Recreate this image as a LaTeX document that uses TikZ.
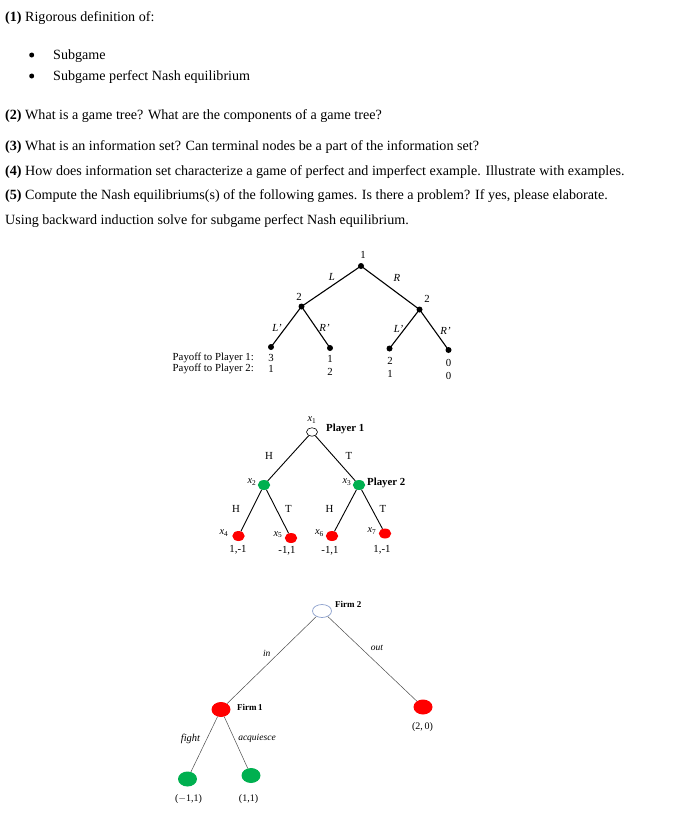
\documentclass[tikz,border=0pt]{standalone}
\usepackage{fontspec}
\setmainfont{Liberation Serif}
\usetikzlibrary{shapes.geometric}
\definecolor{tgreen}{RGB}{0,176,80}
\definecolor{tred}{RGB}{255,0,0}
\definecolor{tblue}{RGB}{140,160,205}
\begin{document}
\begin{tikzpicture}[x=1pt,y=-1pt,
  body/.style={anchor=base west,inner sep=0pt,font=\fontsize{14.1}{16}\selectfont},
  bul/.style={circle,fill=black,inner sep=0pt,minimum size=5pt},
  dotn/.style={circle,fill=black,inner sep=0pt,minimum size=6pt},
  tlab/.style={inner sep=0pt,font=\fontsize{10.8}{11}\selectfont},
  tedge/.style={line width=1.1pt},
  gA/.style={ellipse,draw=black,line width=0.6pt,fill=white,minimum width=11pt,minimum height=8.5pt,inner sep=0pt},
  gG/.style={ellipse,fill=tgreen,minimum width=12.5pt,minimum height=10pt,inner sep=0pt},
  gR/.style={ellipse,fill=tred,minimum width=12.5pt,minimum height=10pt,inner sep=0pt},
  sedge/.style={line width=0.9pt},
  slab/.style={inner sep=0pt,font=\fontsize{10.8}{11}\selectfont},
  xl/.style={inner sep=0pt,font=\fontsize{10.5}{11}\selectfont},
  fR/.style={ellipse,fill=tred,minimum width=19pt,minimum height=15pt,inner sep=0pt},
  fG/.style={ellipse,fill=tgreen,minimum width=19pt,minimum height=15pt,inner sep=0pt},
  fO/.style={ellipse,draw=tblue,line width=0.7pt,fill=white,minimum width=19pt,minimum height=13pt,inner sep=0pt},
  fedge/.style={line width=0.5pt,draw=black!70},
  flab/.style={inner sep=0pt,font=\fontsize{9.5}{10}\selectfont\itshape},
  fpay/.style={inner sep=0pt,font=\fontsize{10}{11}\selectfont},
  fbold/.style={inner sep=0pt,anchor=west,font=\fontsize{9}{10}\selectfont\bfseries},
]
\useasboundingbox (0,0) rectangle (683,820);
\fill[white] (0,0) rectangle (683,820);

% ---------- text ----------
\node[body] (t1) at (5,21.5) {\textbf{(1)} Rigorous definition of:};
\node[bul] (b1) at (31.7,55) {};
\node[body] (t1a) at (53,59) {Subgame};
\node[bul] (b2) at (31.7,76) {};
\node[body] (t1b) at (53,80) {Subgame perfect Nash equilibrium};
\node[body] (t2) at (5,119) {\textbf{(2)} What is a game tree? What are the components of a game tree?};
\node[body] (t3) at (5,150) {\textbf{(3)} What is an information set? Can terminal nodes be a part of the information set?};
\node[body] (t4) at (5,175) {\textbf{(4)} How does information set characterize a game of perfect and imperfect example. Illustrate with examples.};
\node[body] (t5) at (5,199.5) {\textbf{(5)} Compute the Nash equilibriums(s) of the following games. Is there a problem? If yes, please elaborate.};
\node[body] (t6) at (5,224) {Using backward induction solve for subgame perfect Nash equilibrium.};

% ---------- tree 1 ----------
\node[dotn] (r) at (361,266) {};
\node[dotn] (a) at (301.5,306.5) {};
\node[dotn] (b) at (419.5,309.5) {};
\node[dotn] (l1) at (271,347) {};
\node[dotn] (l2) at (330,348) {};
\node[dotn] (l3) at (389.5,348.5) {};
\node[dotn] (l4) at (448.5,350) {};
\draw[tedge] (r.center) -- (a.center);
\draw[tedge] (r.center) -- (b.center);
\draw[tedge] (a.center) -- (l1.center);
\draw[tedge] (a.center) -- (l2.center);
\draw[tedge] (b.center) -- (l3.center);
\draw[tedge] (b.center) -- (l4.center);
\node[tlab] (p1) at (363,255) {1};
\node[tlab] (p2a) at (299,296.5) {2};
\node[tlab] (p2b) at (427,298.5) {2};
\node[tlab] (eL) at (332,277) {\itshape L};
\node[tlab] (eR) at (397,278) {\itshape R};
\node[tlab] (eL1) at (277,328) {\itshape L'};
\node[tlab] (eR1) at (324.5,328) {\itshape R'};
\node[tlab] (eL2) at (398.5,328.5) {\itshape L'};
\node[tlab] (eR2) at (445.5,331) {\itshape R'};
\node[tlab,anchor=west] (pay1) at (172.5,357.5) {Payoff to Player 1:};
\node[tlab,anchor=west] (pay2) at (172.5,368.5) {Payoff to Player 2:};
\node[tlab] (v11) at (271,357.5) {3};
\node[tlab] (v12) at (271,368.5) {1};
\node[tlab] (v21) at (330,359) {1};
\node[tlab] (v22) at (330,372) {2};
\node[tlab] (v31) at (390,361) {2};
\node[tlab] (v32) at (390,373.5) {1};
\node[tlab] (v41) at (448.5,363) {0};
\node[tlab] (v42) at (448.5,375.5) {0};

% ---------- tree 2 ----------
\node[gA] (x1) at (312,432) {};
\node[gG] (x2) at (264,485) {};
\node[gG] (x3) at (359,485) {};
\node[gR] (x4) at (238.5,536) {};
\node[gR] (x5) at (291,538) {};
\node[gR] (x6) at (332,536) {};
\node[gR] (x7) at (385,533.5) {};
\draw[sedge] (x1) -- (x2);
\draw[sedge] (x1) -- (x3);
\draw[sedge] (x2) -- (x4);
\draw[sedge] (x2) -- (x5);
\draw[sedge] (x3) -- (x6);
\draw[sedge] (x3) -- (x7);
\node[xl] (lx1) at (312,420) {\textit{x}\textsubscript{1}};
\node[xl] (lx2) at (252,482) {\textit{x}\textsubscript{2}};
\node[xl] (lx3) at (347,482) {\textit{x}\textsubscript{3}};
\node[xl] (lx4) at (224,533) {\textit{x}\textsubscript{4}};
\node[xl] (lx5) at (278,534.5) {\textit{x}\textsubscript{5}};
\node[xl] (lx6) at (319.5,533) {\textit{x}\textsubscript{6}};
\node[xl] (lx7) at (372,531) {\textit{x}\textsubscript{7}};
\node[slab,anchor=west,font=\fontsize{10.8}{11}\selectfont\bfseries] (pl1) at (326,429) {Player 1};
\node[slab,anchor=west,font=\fontsize{10.8}{11}\selectfont\bfseries] (pl2) at (367,482.5) {Player 2};
\node[slab] (h1) at (269,456) {H};
\node[slab] (t1x) at (349,456) {T};
\node[slab] (h2) at (236,509) {H};
\node[slab] (t2x) at (288.5,509) {T};
\node[slab] (h3) at (329.5,509) {H};
\node[slab] (t3x) at (383,509) {T};
\node[slab] (o4) at (238,550) {1,-1};
\node[slab] (o5) at (287,551) {-1,1};
\node[slab] (o6) at (330,551) {-1,1};
\node[slab] (o7) at (382,550) {1,-1};

% ---------- tree 3 ----------
\node[fO] (f2) at (322,611) {};
\node[fR] (f1) at (221,709.5) {};
\node[fR] (fo) at (423,707) {};
\node[fG] (ff) at (187.5,779) {};
\node[fG] (fa) at (251,775.5) {};
\draw[fedge] (f2) -- (f1);
\draw[fedge] (f2) -- (fo);
\draw[fedge] (f1) -- (ff);
\draw[fedge] (f1) -- (fa);
\node[fbold] (nf2) at (335,604) {Firm 2};
\node[fbold] (nf1) at (237,707) {Firm\,1};
\node[flab] (lin) at (266.7,653) {in};
\node[flab] (lout) at (377,647.5) {out};
\node[flab,font=\fontsize{10.5}{11}\selectfont\itshape] (lfight) at (190.5,738.5) {fight};
\node[flab] (lacq) at (257,738.5) {acquiesce};
\node[fpay] (po) at (422.5,727.5) {(2,\,0)};
\node[fpay] (pf) at (188.5,799.5) {($-$1,1)};
\node[fpay] (pa) at (248.5,799.5) {(1,1)};
\end{tikzpicture}
\end{document}
